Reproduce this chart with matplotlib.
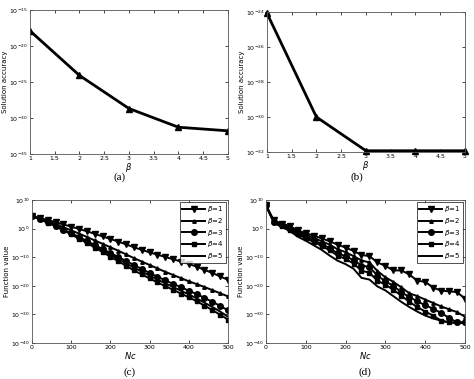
import numpy as np
import matplotlib
matplotlib.use("Agg")
from matplotlib import pyplot as plt

# panel (a) and (b): solution accuracy vs beta (log10 exponents)
beta = [1, 2, 3, 4, 5]
acc_a = [-17.9, -24.1, -28.7, -31.3, -31.8]
acc_b = [-24.05, -30.0, -31.93, -31.93, -31.93]

# panel (c): function value vs Nc (log10 exponents)
nc = list(range(0, 501, 20))
c_b1 = [4.4, 3.7, 3.0, 2.3, 1.5, 0.7, -0.1, -0.9, -1.8, -2.7, -3.6, -4.5, -5.5,
        -6.5, -7.4, -8.3, -9.1, -9.9, -10.7, -11.5, -12.3, -13.3, -14.4, -15.5, -16.7, -17.9]
c_b2 = [4.4, 3.5, 2.6, 1.6, 0.5, -0.6, -1.7, -2.9, -4.1, -5.3, -6.5, -7.7, -9.0,
        -10.3, -11.5, -12.7, -13.9, -15.1, -16.2, -17.3, -18.4, -19.4, -20.4, -21.5, -22.6, -23.7]
c_b3 = [4.4, 3.4, 2.3, 1.0, -0.3, -1.6, -2.9, -4.3, -5.7, -7.1, -8.5, -9.9, -11.3,
        -12.7, -14.1, -15.5, -16.8, -18.1, -19.3, -20.5, -21.7, -22.9, -24.2, -25.6, -27.0, -28.6]
c_b4 = [4.4, 3.3, 2.1, 0.8, -0.6, -2.0, -3.5, -5.0, -6.6, -8.2, -9.8, -11.4, -13.0,
        -14.6, -16.0, -17.4, -18.8, -20.1, -21.4, -22.7, -24.0, -25.4, -26.9, -28.5, -30.1, -31.8]
c_b5 = [4.4, 3.3, 2.2, 0.9, -0.4, -1.8, -3.2, -4.6, -6.1, -7.6, -9.1, -10.6, -12.1,
        -13.6, -15.0, -16.4, -17.8, -19.1, -20.4, -21.7, -23.0, -24.4, -25.9, -27.4, -29.0, -30.8]

# panel (d)
d_b1 = [8.2, 2.9, 1.8, 0.9, -0.6, -1.6, -2.4, -3.4, -4.4, -5.6, -6.6, -7.8, -9.2,
        -9.6, -11.8, -13.0, -14.6, -14.6, -16.0, -18.2, -18.6, -20.6, -21.7, -21.9, -22.2, -24.5]
d_b2 = [8.2, 2.6, 1.4, 0.4, -1.0, -2.2, -3.2, -4.4, -5.6, -7.2, -8.2, -9.6, -11.1,
        -11.8, -14.8, -17.0, -18.6, -20.5, -22.6, -23.6, -24.8, -26.0, -27.2, -28.2, -29.2, -30.8]
d_b3 = [8.2, 2.4, 1.2, 0.0, -1.6, -2.8, -4.0, -5.4, -6.8, -8.6, -9.6, -11.0, -12.9,
        -13.4, -16.4, -18.4, -20.0, -22.2, -23.9, -25.4, -26.8, -28.0, -29.5, -31.2, -32.8, -32.8]
d_b4 = [8.2, 2.2, 1.0, -0.3, -2.0, -3.3, -4.6, -6.0, -7.6, -9.4, -10.6, -12.2, -14.7,
        -15.4, -18.2, -19.6, -21.4, -23.4, -25.6, -27.4, -29.0, -30.4, -32.2, -32.8, -32.8, -32.8]
d_b5 = [8.2, 2.0, 0.6, -0.8, -2.8, -4.2, -5.8, -7.4, -9.4, -11.2, -12.4, -14.0, -17.2,
        -17.8, -20.2, -21.6, -23.6, -25.6, -27.4, -29.0, -30.4, -31.4, -32.2, -32.8, -33.0, -33.0]

labels = [r"$\beta$=1", r"$\beta$=2", r"$\beta$=3", r"$\beta$=4", r"$\beta$=5"]
markers = ["v", "^", "o", "s", None]
msizes = [4, 2.5, 4, 3.5, 0]

plt.rcParams["font.family"] = "DejaVu Sans"
plt.rcParams["mathtext.fontset"] = "dejavusans"

fig = plt.figure(figsize=(4.74, 3.79), dpi=100)


def style(ax):
    ax.tick_params(direction="in", top=True, right=True, labelsize=4.5, length=2.5, width=0.5, pad=1.5)
    ax.tick_params(which="minor", left=False, right=False, top=False, bottom=False)
    for s in ax.spines.values():
        s.set_linewidth(0.6)
        s.set_color("#555555")


def pow_ticks(ax, exps):
    ax.set_yticks([10.0 ** e for e in exps])
    ax.set_yticklabels([r"$10^{%d}$" % e for e in exps])


# (a)
ax = fig.add_axes([0.063, 0.594, 0.418, 0.380])
ax.semilogy(beta, 10.0 ** np.array(acc_a), "k-^", lw=2, ms=5)
ax.set_xlim(1, 5)
ax.set_ylim(1e-35, 1e-15)
ax.set_xticks([1, 1.5, 2, 2.5, 3, 3.5, 4, 4.5, 5])
ax.set_xticklabels(["1", "1.5", "2", "2.5", "3", "3.5", "4", "4.5", "5"])
pow_ticks(ax, [-15, -20, -25, -30, -35])
ax.set_ylabel("Solution accuracy", fontsize=5, labelpad=0.5)
ax.set_xlabel(r"$\beta$", fontsize=6, labelpad=0)
style(ax)
fig.text(0.253, 0.533, "(a)", fontsize=8, family="Liberation Serif", ha="center", va="center")

# (b)
ax = fig.add_axes([0.563, 0.599, 0.418, 0.369])
ax.semilogy(beta, 10.0 ** np.array(acc_b), "k-^", lw=2, ms=5, clip_on=False)
ax.set_xlim(1, 5)
ax.set_ylim(1e-32, 1e-24)
ax.set_xticks([1, 1.5, 2, 2.5, 3, 3.5, 4, 4.5, 5])
ax.set_xticklabels(["1", "1.5", "2", "2.5", "3", "3.5", "4", "4.5", "5"])
pow_ticks(ax, [-24, -26, -28, -30, -32])
ax.set_ylabel("Solution accuracy", fontsize=5, labelpad=0.5)
ax.set_xlabel(r"$\beta$", fontsize=6, labelpad=0)
style(ax)
fig.text(0.753, 0.533, "(b)", fontsize=8, family="Liberation Serif", ha="center", va="center")


def conv_panel(rect, series, cap_x, cap):
    ax = fig.add_axes(rect)
    for ys, lab, m, s in zip(series, labels, markers, msizes):
        if m is None:
            ax.semilogy(nc, 10.0 ** np.array(ys), "k-", lw=1.4, label=lab)
        else:
            ax.semilogy(nc, 10.0 ** np.array(ys), "k-", marker=m, ms=s, lw=1.4, label=lab)
    ax.set_xlim(0, 500)
    ax.set_ylim(1e-40, 1e10)
    ax.set_xticks([0, 100, 200, 300, 400, 500])
    pow_ticks(ax, [10, 0, -10, -20, -30, -40])
    ax.set_ylabel("Function value", fontsize=5, labelpad=0.5)
    ax.set_xlabel(r"$Nc$", fontsize=6, labelpad=0)
    style(ax)
    leg = ax.legend(loc="upper right", fontsize=5, handlelength=3.2, labelspacing=0.25,
                    borderpad=0.3, handletextpad=0.4, fancybox=False, edgecolor="k",
                    borderaxespad=0.3)
    leg.get_frame().set_linewidth(0.6)
    fig.text(cap_x, 0.019, cap, fontsize=8, family="Liberation Serif", ha="center", va="center")


conv_panel([0.0675, 0.095, 0.4135, 0.377], [c_b1, c_b2, c_b3, c_b4, c_b5], 0.274, "(c)")
conv_panel([0.561, 0.095, 0.42, 0.377], [d_b1, d_b2, d_b3, d_b4, d_b5], 0.77, "(d)")

fig.savefig("out.png", dpi=100)
